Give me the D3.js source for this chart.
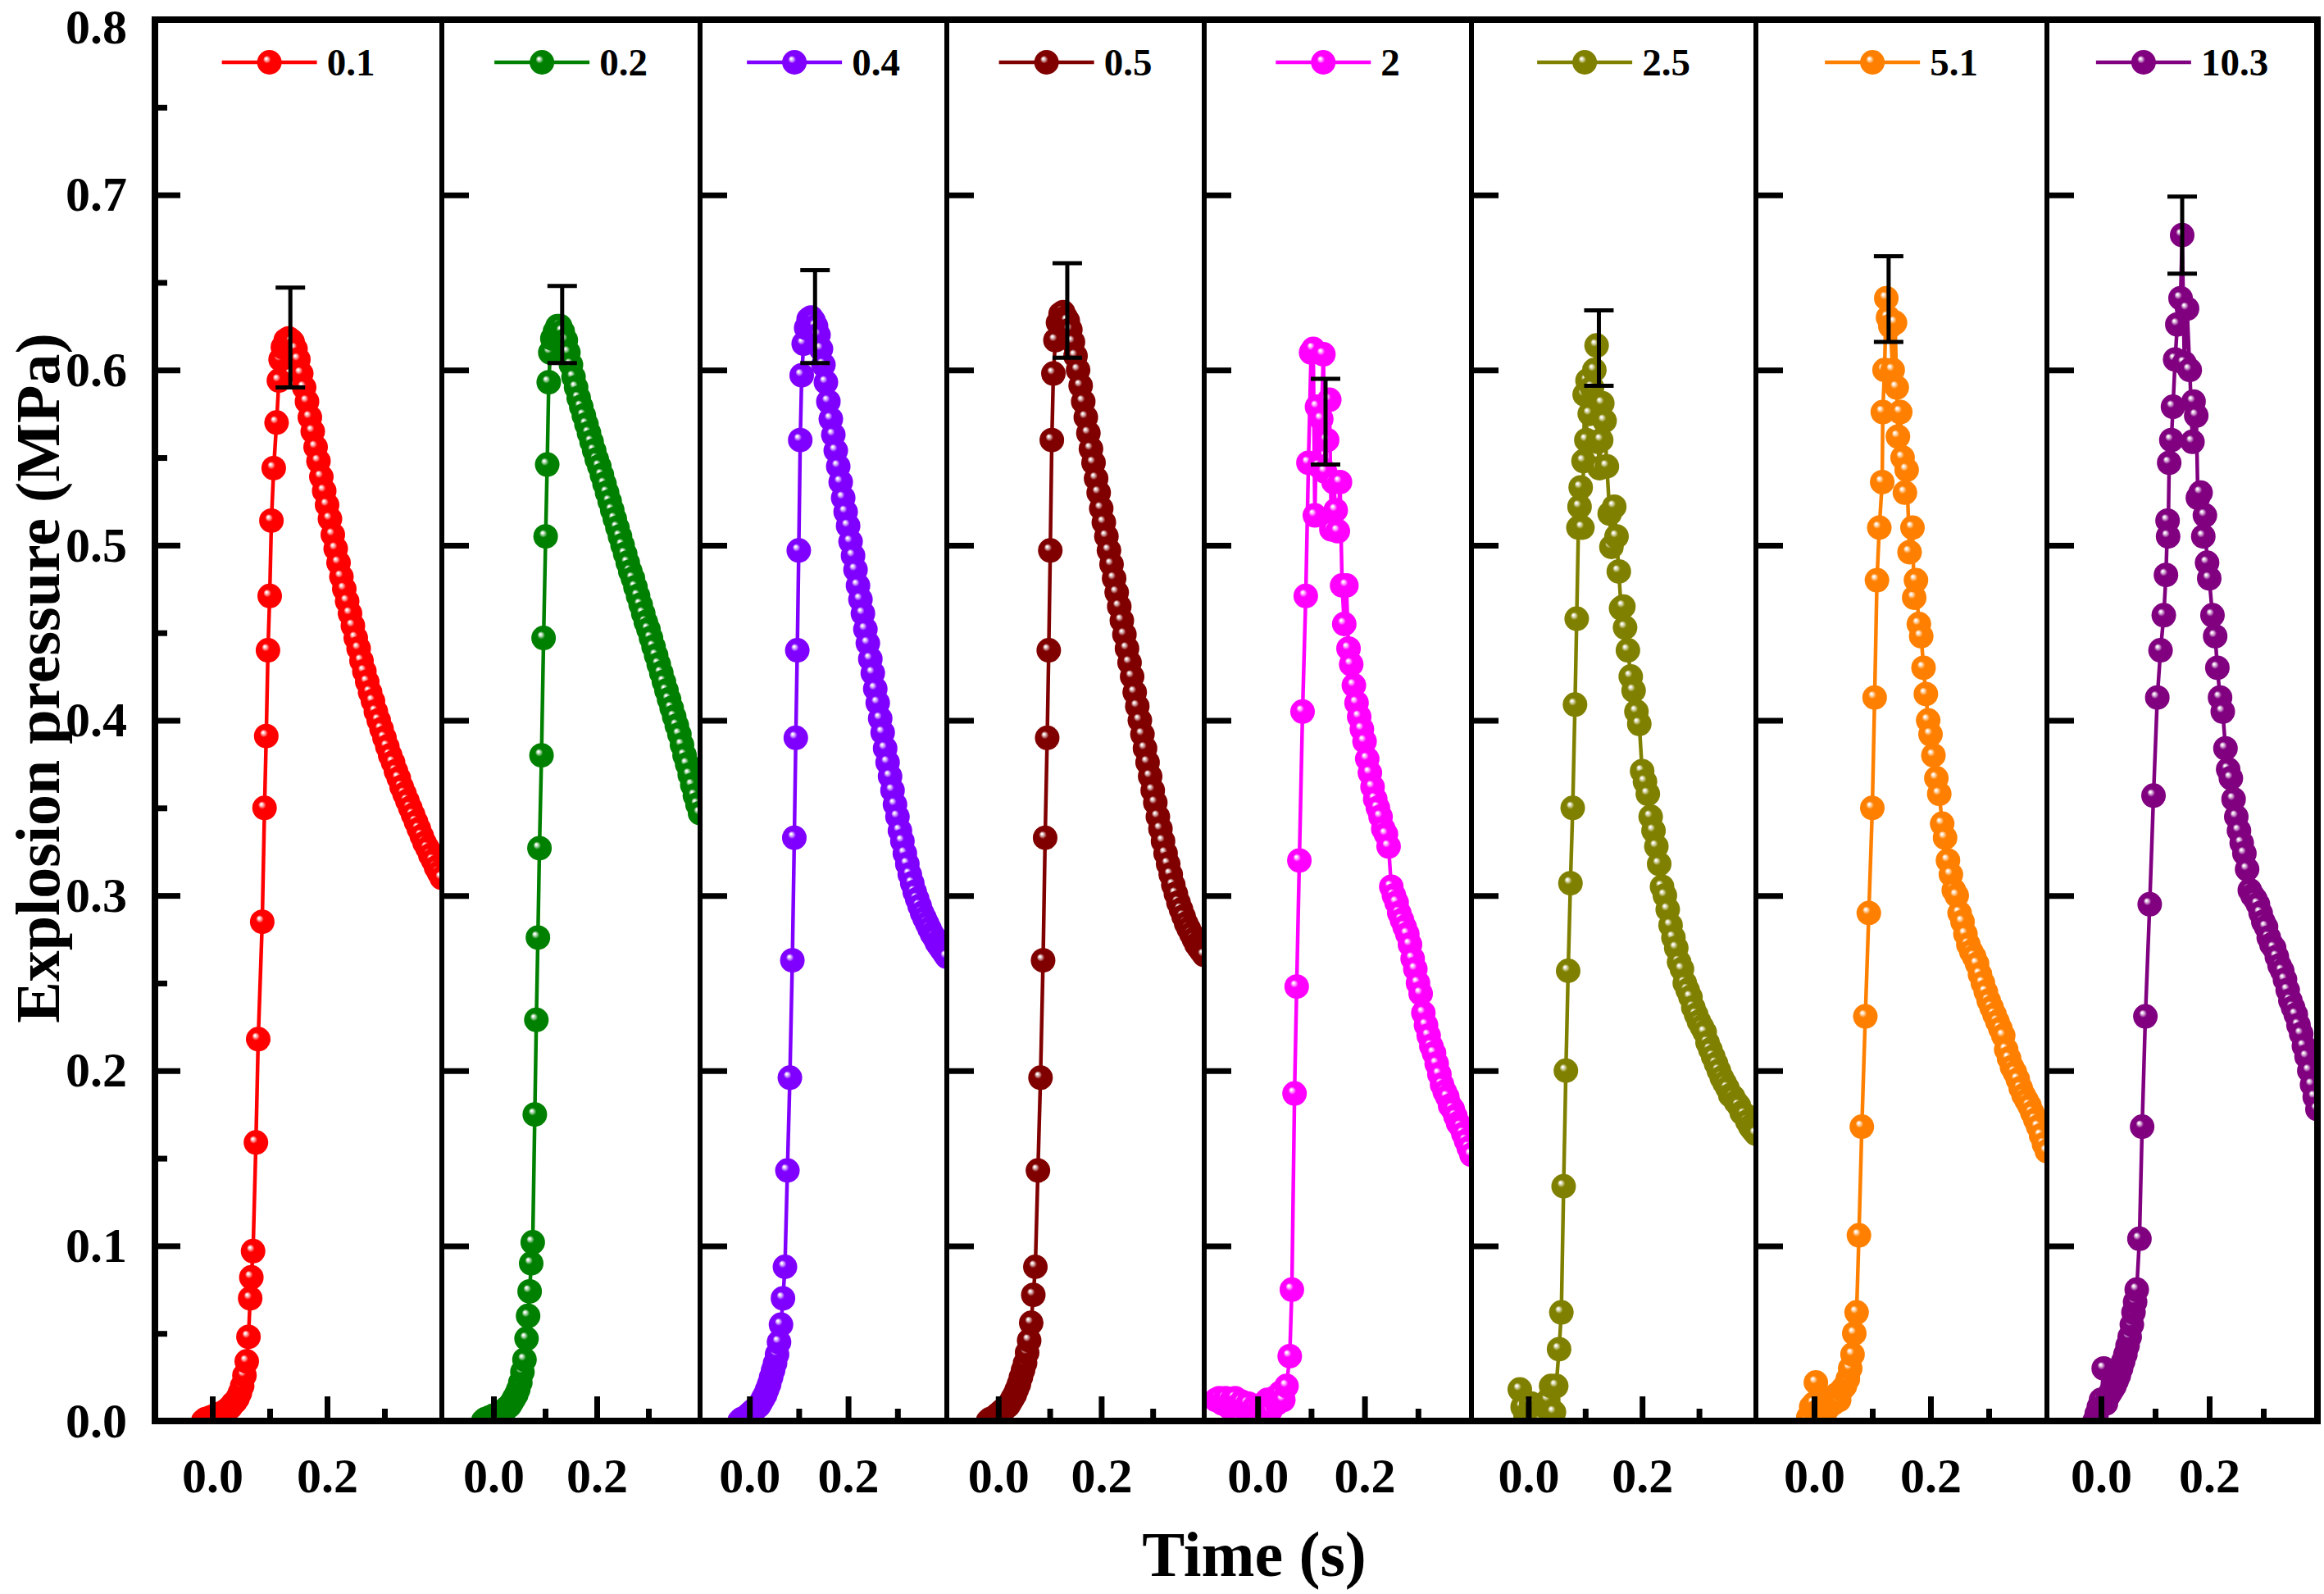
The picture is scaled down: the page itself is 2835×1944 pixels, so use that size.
<!DOCTYPE html>
<html>
<head>
<meta charset="utf-8">
<script src="https://cdn.jsdelivr.net/npm/d3@7"></script>
<style>
  html, body { margin: 0; padding: 0; background: #fff; }
  svg { display: block; }
  text { font-family: "Times New Roman", "Liberation Serif", serif; font-weight: bold; fill: #000; }
</style>
</head>
<body>
<div id="chart"></div>
<script>
// Explosion pressure vs time, one panel per concentration

const labels = ['0.1', '0.2', '0.4', '0.5', '2', '2.5', '5.1', '10.3'];
const colors = ['#ff0000', '#008000', '#8000ff', '#800000', '#ff00ff', '#808000', '#ff8000', '#800080'];

// error bars at the peak: time, lower, upper
const errT  = [0.136, 0.133, 0.133, 0.134, 0.127, 0.124, 0.128, 0.150];
const errLo = [0.590, 0.604, 0.604, 0.607, 0.546, 0.591, 0.616, 0.655];
const errHi = [0.647, 0.648, 0.657, 0.661, 0.595, 0.634, 0.665, 0.699];

const yTicks = [0, 0.1, 0.2, 0.3, 0.4, 0.5, 0.6, 0.7, 0.8];
const yMinor = [0.05, 0.15, 0.25, 0.35, 0.45, 0.55, 0.65, 0.75];
const xTicks = [0, 0.2];
const xMinor = [0.1, 0.3];

// [time (s), pressure (MPa)]
const s01 = [
  [-0.016,0.000],[-0.012,0.001],[-0.008,0.001],[-0.004,0.002],[0.000,0.002],[0.004,0.003],[0.008,0.003],[0.012,0.004],
  [0.016,0.004],[0.020,0.005],[0.024,0.006],[0.028,0.007],[0.032,0.008],[0.036,0.010],[0.040,0.011],[0.044,0.013],
  [0.048,0.016],[0.052,0.020],[0.056,0.026],[0.060,0.034],[0.063,0.048],[0.066,0.070],[0.068,0.082],[0.071,0.097],
  [0.076,0.159],[0.080,0.218],[0.087,0.285],[0.091,0.350],[0.094,0.391],[0.097,0.440],[0.100,0.471],[0.103,0.514],
  [0.107,0.544],[0.112,0.570],[0.116,0.594],[0.119,0.606],[0.123,0.613],[0.128,0.617],[0.133,0.618],[0.137,0.617],
  [0.140,0.616],[0.145,0.612],[0.150,0.606],[0.155,0.598],[0.160,0.590],[0.165,0.582],[0.170,0.573],[0.175,0.565],
  [0.180,0.556],[0.185,0.548],[0.190,0.539],[0.195,0.531],[0.200,0.523],[0.205,0.515],[0.210,0.506],[0.215,0.498],
  [0.220,0.490],[0.225,0.482],[0.230,0.475],[0.235,0.468],[0.240,0.461],[0.245,0.454],[0.250,0.447],[0.255,0.441],
  [0.260,0.434],[0.265,0.428],[0.270,0.422],[0.275,0.416],[0.280,0.411],[0.285,0.405],[0.290,0.400],[0.295,0.395],
  [0.300,0.390],[0.305,0.385],[0.310,0.380],[0.315,0.376],[0.320,0.371],[0.325,0.367],[0.330,0.362],[0.335,0.358],
  [0.340,0.354],[0.345,0.350],[0.350,0.346],[0.355,0.342],[0.360,0.338],[0.365,0.334],[0.370,0.330],[0.375,0.327],
  [0.380,0.323],[0.385,0.320],[0.390,0.316],[0.395,0.313],[0.400,0.310]
];
const s02 = [
  [-0.020,0.000],[-0.016,0.001],[-0.012,0.001],[-0.008,0.002],[-0.004,0.002],[0.000,0.003],[0.004,0.003],[0.008,0.004],
  [0.012,0.004],[0.016,0.005],[0.020,0.006],[0.024,0.007],[0.028,0.008],[0.032,0.009],[0.036,0.011],[0.040,0.013],
  [0.044,0.015],[0.048,0.018],[0.052,0.022],[0.056,0.028],[0.060,0.035],[0.064,0.047],[0.067,0.060],[0.070,0.074],
  [0.073,0.090],[0.076,0.102],[0.080,0.175],[0.083,0.229],[0.086,0.276],[0.089,0.327],[0.093,0.380],[0.097,0.447],
  [0.101,0.505],[0.104,0.546],[0.107,0.593],[0.110,0.610],[0.114,0.618],[0.119,0.622],[0.124,0.625],[0.129,0.625],
  [0.134,0.622],[0.140,0.617],[0.145,0.610],[0.150,0.603],[0.155,0.596],[0.160,0.590],[0.165,0.584],[0.170,0.579],
  [0.175,0.574],[0.180,0.569],[0.185,0.564],[0.190,0.559],[0.195,0.554],[0.200,0.549],[0.205,0.545],[0.210,0.540],
  [0.215,0.535],[0.220,0.530],[0.225,0.525],[0.230,0.520],[0.235,0.515],[0.240,0.510],[0.245,0.505],[0.250,0.500],
  [0.255,0.495],[0.260,0.490],[0.265,0.485],[0.270,0.481],[0.275,0.476],[0.280,0.471],[0.285,0.466],[0.290,0.461],
  [0.295,0.456],[0.300,0.452],[0.305,0.447],[0.310,0.442],[0.315,0.437],[0.320,0.432],[0.325,0.427],[0.330,0.422],
  [0.335,0.417],[0.340,0.412],[0.345,0.407],[0.350,0.402],[0.355,0.397],[0.360,0.392],[0.365,0.386],[0.370,0.380],
  [0.375,0.375],[0.380,0.369],[0.385,0.363],[0.390,0.357],[0.395,0.352],[0.400,0.347]
];
const s04 = [
  [-0.020,0.000],[-0.016,0.001],[-0.012,0.001],[-0.008,0.002],[-0.004,0.003],[0.000,0.004],[0.004,0.005],[0.008,0.006],
  [0.012,0.007],[0.016,0.008],[0.020,0.009],[0.024,0.011],[0.028,0.013],[0.032,0.015],[0.036,0.018],[0.040,0.021],
  [0.044,0.025],[0.048,0.029],[0.052,0.033],[0.056,0.038],[0.060,0.045],[0.064,0.055],[0.068,0.070],[0.072,0.088],
  [0.077,0.143],[0.082,0.196],[0.087,0.263],[0.091,0.333],[0.094,0.390],[0.097,0.440],[0.100,0.497],[0.103,0.560],
  [0.106,0.597],[0.110,0.615],[0.115,0.624],[0.120,0.629],[0.125,0.630],[0.130,0.628],[0.135,0.625],[0.140,0.620],
  [0.145,0.612],[0.150,0.603],[0.155,0.593],[0.160,0.582],[0.165,0.572],[0.170,0.563],[0.175,0.554],[0.180,0.545],
  [0.185,0.536],[0.190,0.527],[0.195,0.519],[0.200,0.511],[0.205,0.502],[0.210,0.494],[0.215,0.486],[0.220,0.477],
  [0.225,0.469],[0.230,0.461],[0.235,0.452],[0.240,0.444],[0.245,0.435],[0.250,0.427],[0.255,0.418],[0.260,0.410],
  [0.265,0.401],[0.270,0.393],[0.275,0.384],[0.280,0.376],[0.285,0.368],[0.290,0.360],[0.295,0.352],[0.300,0.345],
  [0.305,0.337],[0.310,0.331],[0.315,0.324],[0.320,0.318],[0.325,0.312],[0.330,0.307],[0.335,0.302],[0.340,0.298],
  [0.345,0.294],[0.350,0.290],[0.355,0.287],[0.360,0.284],[0.365,0.281],[0.370,0.278],[0.375,0.276],[0.380,0.273],
  [0.385,0.271],[0.390,0.269],[0.395,0.267],[0.400,0.265]
];
const s05 = [
  [-0.020,0.000],[-0.016,0.001],[-0.012,0.001],[-0.008,0.002],[-0.004,0.003],[0.000,0.004],[0.004,0.005],[0.008,0.006],
  [0.012,0.007],[0.016,0.008],[0.020,0.009],[0.024,0.011],[0.028,0.013],[0.032,0.015],[0.036,0.018],[0.040,0.021],
  [0.044,0.025],[0.048,0.029],[0.052,0.033],[0.056,0.039],[0.060,0.046],[0.064,0.056],[0.068,0.072],[0.072,0.088],
  [0.077,0.143],[0.082,0.196],[0.087,0.263],[0.091,0.333],[0.095,0.390],[0.098,0.440],[0.101,0.497],[0.104,0.560],
  [0.107,0.598],[0.111,0.617],[0.116,0.627],[0.121,0.632],[0.126,0.633],[0.131,0.630],[0.135,0.628],[0.140,0.623],
  [0.145,0.616],[0.150,0.608],[0.155,0.600],[0.160,0.591],[0.165,0.582],[0.170,0.573],[0.175,0.564],[0.180,0.555],
  [0.185,0.547],[0.190,0.538],[0.195,0.530],[0.200,0.521],[0.205,0.513],[0.210,0.505],[0.215,0.497],[0.220,0.489],
  [0.225,0.481],[0.230,0.473],[0.235,0.465],[0.240,0.457],[0.245,0.449],[0.250,0.441],[0.255,0.433],[0.260,0.425],
  [0.265,0.416],[0.270,0.408],[0.275,0.400],[0.280,0.392],[0.285,0.384],[0.290,0.376],[0.295,0.368],[0.300,0.360],
  [0.305,0.353],[0.310,0.345],[0.315,0.338],[0.320,0.331],[0.325,0.324],[0.330,0.318],[0.335,0.312],[0.340,0.306],
  [0.345,0.301],[0.350,0.296],[0.355,0.292],[0.360,0.288],[0.365,0.284],[0.370,0.281],[0.375,0.278],[0.380,0.275],
  [0.385,0.272],[0.390,0.270],[0.395,0.268],[0.400,0.266]
];
const s2 = [
  [-0.078,0.012],[-0.072,0.013],[-0.066,0.010],[-0.060,0.013],[-0.054,0.008],[-0.048,0.012],[-0.042,0.013],[-0.036,0.009],
  [-0.030,0.011],[-0.024,0.007],[-0.018,0.010],[-0.012,0.004],[-0.006,0.008],[0.000,0.002],[0.006,0.009],[0.012,0.004],
  [0.018,0.012],[0.024,0.006],[0.030,0.013],[0.036,0.010],[0.042,0.016],[0.048,0.012],[0.054,0.020],[0.060,0.037],
  [0.064,0.075],[0.069,0.187],[0.073,0.248],[0.078,0.320],[0.084,0.405],[0.090,0.471],[0.095,0.547],[0.100,0.610],
  [0.104,0.612],[0.107,0.517],[0.111,0.579],[0.115,0.545],[0.119,0.572],[0.123,0.609],[0.126,0.542],[0.130,0.560],
  [0.134,0.583],[0.138,0.509],[0.142,0.536],[0.146,0.520],[0.150,0.508],[0.154,0.536],[0.158,0.477],[0.162,0.455],
  [0.166,0.477],[0.170,0.441],[0.175,0.432],[0.180,0.420],[0.185,0.410],[0.190,0.402],[0.195,0.395],[0.200,0.388],
  [0.205,0.378],[0.210,0.370],[0.215,0.362],[0.220,0.355],[0.225,0.350],[0.230,0.345],[0.235,0.338],[0.240,0.335],
  [0.245,0.328],[0.250,0.305],[0.255,0.300],[0.260,0.296],[0.265,0.290],[0.270,0.286],[0.275,0.282],[0.280,0.278],
  [0.285,0.272],[0.290,0.264],[0.295,0.258],[0.300,0.250],[0.305,0.244],[0.310,0.233],[0.315,0.226],[0.320,0.220],
  [0.325,0.214],[0.330,0.210],[0.335,0.204],[0.340,0.198],[0.345,0.192],[0.350,0.188],[0.355,0.185],[0.360,0.180],
  [0.365,0.178],[0.370,0.174],[0.375,0.170],[0.380,0.168],[0.385,0.164],[0.390,0.160],[0.395,0.156],[0.400,0.152]
];
const s25 = [
  [-0.015,0.018],[-0.010,0.008],[-0.005,0.003],[0.000,0.002],[0.005,0.010],[0.010,0.003],[0.015,0.000],[0.020,0.006],
  [0.025,0.001],[0.030,0.008],[0.035,0.012],[0.040,0.020],[0.045,0.005],[0.049,0.020],[0.054,0.041],[0.058,0.062],
  [0.062,0.134],[0.066,0.200],[0.070,0.257],[0.074,0.307],[0.078,0.350],[0.082,0.409],[0.085,0.458],[0.088,0.510],
  [0.090,0.522],[0.092,0.533],[0.095,0.510],[0.097,0.548],[0.099,0.586],[0.102,0.560],[0.104,0.594],[0.108,0.575],
  [0.112,0.590],[0.116,0.600],[0.120,0.614],[0.122,0.559],[0.125,0.544],[0.128,0.560],[0.130,0.581],[0.134,0.571],
  [0.138,0.545],[0.143,0.518],[0.146,0.499],[0.151,0.522],[0.155,0.505],[0.159,0.485],[0.163,0.464],[0.167,0.465],
  [0.170,0.453],[0.175,0.440],[0.180,0.425],[0.185,0.417],[0.190,0.405],[0.195,0.398],[0.200,0.371],[0.205,0.365],
  [0.210,0.358],[0.215,0.345],[0.220,0.337],[0.225,0.328],[0.230,0.318],[0.235,0.305],[0.240,0.300],[0.245,0.292],
  [0.250,0.283],[0.255,0.276],[0.260,0.270],[0.265,0.262],[0.270,0.258],[0.275,0.250],[0.280,0.246],[0.285,0.242],
  [0.290,0.236],[0.295,0.232],[0.300,0.228],[0.305,0.225],[0.310,0.222],[0.315,0.216],[0.320,0.212],[0.325,0.208],
  [0.330,0.204],[0.335,0.200],[0.340,0.196],[0.345,0.193],[0.350,0.190],[0.355,0.186],[0.360,0.185],[0.365,0.182],
  [0.370,0.180],[0.375,0.176],[0.380,0.175],[0.385,0.171],[0.390,0.168],[0.395,0.166],[0.400,0.164]
];
const s51 = [
  [-0.010,0.002],[-0.005,0.008],[0.000,0.010],[0.003,0.022],[0.008,0.006],[0.013,0.004],[0.018,0.009],[0.023,0.007],
  [0.028,0.012],[0.033,0.010],[0.038,0.015],[0.043,0.012],[0.048,0.018],[0.053,0.020],[0.058,0.024],[0.062,0.030],
  [0.066,0.038],[0.069,0.050],[0.073,0.062],[0.077,0.106],[0.082,0.168],[0.088,0.231],[0.094,0.290],[0.100,0.350],
  [0.104,0.413],[0.108,0.480],[0.112,0.510],[0.117,0.536],[0.118,0.576],[0.121,0.600],[0.124,0.641],[0.127,0.630],
  [0.131,0.625],[0.135,0.600],[0.139,0.627],[0.142,0.590],[0.144,0.562],[0.148,0.576],[0.152,0.550],[0.156,0.530],
  [0.159,0.543],[0.164,0.496],[0.169,0.510],[0.172,0.470],[0.175,0.480],[0.180,0.455],[0.184,0.448],[0.188,0.430],
  [0.192,0.415],[0.196,0.400],[0.200,0.392],[0.205,0.380],[0.210,0.367],[0.215,0.358],[0.220,0.341],[0.225,0.333],
  [0.230,0.320],[0.235,0.312],[0.240,0.303],[0.245,0.300],[0.250,0.290],[0.255,0.285],[0.260,0.278],[0.265,0.272],
  [0.270,0.268],[0.275,0.265],[0.280,0.261],[0.285,0.255],[0.290,0.250],[0.295,0.245],[0.300,0.240],[0.305,0.236],
  [0.310,0.232],[0.315,0.228],[0.320,0.224],[0.325,0.220],[0.330,0.212],[0.335,0.207],[0.340,0.202],[0.345,0.199],
  [0.350,0.195],[0.355,0.190],[0.360,0.186],[0.365,0.183],[0.370,0.180],[0.375,0.176],[0.380,0.172],[0.385,0.168],
  [0.390,0.163],[0.395,0.158],[0.400,0.154]
];
const s103 = [
  [-0.012,0.000],[-0.008,0.004],[-0.004,0.008],[0.000,0.012],[0.005,0.030],[0.009,0.010],[0.013,0.014],[0.017,0.016],
  [0.021,0.018],[0.025,0.020],[0.029,0.023],[0.033,0.026],[0.037,0.030],[0.041,0.034],[0.045,0.038],[0.049,0.043],
  [0.053,0.048],[0.057,0.055],[0.060,0.062],[0.063,0.068],[0.066,0.075],[0.071,0.104],[0.076,0.168],[0.082,0.231],
  [0.090,0.295],[0.097,0.357],[0.104,0.413],[0.110,0.440],[0.116,0.460],[0.120,0.483],[0.123,0.514],[0.124,0.505],
  [0.126,0.547],[0.130,0.560],[0.133,0.579],[0.137,0.606],[0.141,0.626],[0.147,0.641],[0.150,0.677],[0.154,0.604],
  [0.159,0.635],[0.164,0.600],[0.169,0.559],[0.171,0.582],[0.176,0.574],[0.179,0.527],[0.184,0.530],[0.189,0.505],
  [0.192,0.517],[0.196,0.490],[0.200,0.481],[0.206,0.460],[0.211,0.448],[0.215,0.430],[0.220,0.413],[0.225,0.405],
  [0.230,0.384],[0.235,0.372],[0.240,0.367],[0.245,0.355],[0.250,0.345],[0.255,0.337],[0.260,0.330],[0.265,0.324],
  [0.270,0.315],[0.275,0.303],[0.280,0.300],[0.285,0.298],[0.290,0.295],[0.295,0.290],[0.300,0.285],[0.305,0.282],
  [0.310,0.276],[0.315,0.272],[0.320,0.270],[0.325,0.265],[0.330,0.260],[0.335,0.257],[0.340,0.252],[0.345,0.246],
  [0.350,0.240],[0.355,0.236],[0.360,0.232],[0.365,0.226],[0.370,0.221],[0.375,0.214],[0.380,0.208],[0.385,0.200],
  [0.390,0.192],[0.395,0.185],[0.400,0.178]
];

const seriesData = [s01, s02, s04, s05, s2, s25, s51, s103];

// ---- layout ----
const W = 2835, H = 1944;
const plotTop = 24, plotBottom = 1733;
const edges = [189, 539, 854, 1155, 1469, 1795, 2142, 2497, 2827];
const markerR = 15;

const svg = d3.select('#chart').append('svg')
  .attr('width', W)
  .attr('height', H)
  .attr('viewBox', [0, 0, W, H]);

svg.append('rect').attr('width', W).attr('height', H).attr('fill', '#fff');

const defs = svg.append('defs');

const y = d3.scaleLinear().domain([0, 0.8]).range([plotBottom, plotTop]);

// sphere-like marker fill for every colour: small highlight up-left, solid body
colors.forEach((c, i) => {
  const g = defs.append('radialGradient')
    .attr('id', 'ball' + i)
    .attr('cx', '0.5').attr('cy', '0.5').attr('r', '0.5')
    .attr('fx', '0.36').attr('fy', '0.34');
  g.append('stop').attr('offset', 0).attr('stop-color', '#ffffff');
  g.append('stop').attr('offset', 0.05).attr('stop-color', '#ffffff');
  g.append('stop').attr('offset', 0.17).attr('stop-color', d3.interpolateRgb(c, '#ffffff')(0.6));
  g.append('stop').attr('offset', 0.32).attr('stop-color', c);
  g.append('stop').attr('offset', 1).attr('stop-color', c);
});

const fmt = d3.format('.1f');

seriesData.forEach((data, i) => {
  const x0 = edges[i], x1 = edges[i + 1];
  const x = d3.scaleLinear().domain([-0.1, 0.4]).range([x0, x1]);

  defs.append('clipPath').attr('id', 'clip' + i)
    .append('rect')
    .attr('x', x0).attr('y', plotTop)
    .attr('width', x1 - x0).attr('height', plotBottom - plotTop);

  const panel = svg.append('g').attr('clip-path', `url(#clip${i})`);

  const line = d3.line().x(d => x(d[0])).y(d => y(d[1]));

  panel.append('path')
    .datum(data)
    .attr('fill', 'none')
    .attr('stroke', colors[i])
    .attr('stroke-width', 4.5)
    .attr('stroke-linejoin', 'round')
    .attr('d', line);

  panel.append('g')
    .selectAll('circle')
    .data(data)
    .join('circle')
    .attr('cx', d => x(d[0]))
    .attr('cy', d => y(d[1]))
    .attr('r', markerR)
    .attr('fill', `url(#ball${i})`);

  // error bar at the peak
  const eb = panel.append('g').attr('stroke', '#000').attr('stroke-width', 5);
  const ex = x(errT[i]);
  eb.append('line').attr('x1', ex).attr('x2', ex).attr('y1', y(errLo[i])).attr('y2', y(errHi[i]));
  [errLo[i], errHi[i]].forEach(v => {
    eb.append('line').attr('x1', ex - 18).attr('x2', ex + 18).attr('y1', y(v)).attr('y2', y(v));
  });

  // bottom axis: ticks point inward
  const xAxis = svg.append('g').attr('transform', `translate(0,${plotBottom})`)
    .call(d3.axisBottom(x).tickValues(xTicks).tickSize(-30).tickPadding(44).tickFormat(fmt));
  const xMinorAxis = svg.append('g').attr('transform', `translate(0,${plotBottom})`)
    .call(d3.axisBottom(x).tickValues(xMinor).tickSize(-15).tickFormat(''));
  [xAxis, xMinorAxis].forEach(a => {
    a.select('.domain').remove();
    a.selectAll('line').attr('stroke', '#000').attr('stroke-width', 7);
  });
  xAxis.selectAll('text').style('font-size', '60px');

  // left axis of each panel
  if (i === 0) {
    const yAxis = svg.append('g').attr('transform', `translate(${x0},0)`)
      .call(d3.axisLeft(y).tickValues(yTicks).tickSize(-31).tickPadding(34).tickFormat(fmt));
    const yMinorAxis = svg.append('g').attr('transform', `translate(${x0},0)`)
      .call(d3.axisLeft(y).tickValues(yMinor).tickSize(-15).tickFormat(''));
    [yAxis, yMinorAxis].forEach(a => {
      a.select('.domain').remove();
      a.selectAll('line').attr('stroke', '#000').attr('stroke-width', 7);
    });
    yAxis.selectAll('text').style('font-size', '60px');
    // keep the top label inside the page
    yAxis.selectAll('text').filter(d => d === 0.8).attr('y', 9);
  } else {
    const divAxis = svg.append('g').attr('transform', `translate(${x0},0)`)
      .call(d3.axisLeft(y).tickValues(yTicks.slice(1, -1)).tickSize(-33).tickFormat(''));
    divAxis.select('.domain').remove();
    divAxis.selectAll('line').attr('stroke', '#000').attr('stroke-width', 7);
    svg.append('line')
      .attr('x1', x0).attr('x2', x0).attr('y1', plotTop).attr('y2', plotBottom)
      .attr('stroke', '#000').attr('stroke-width', 6);
  }

  // legend, centred in the panel
  const lg = svg.append('g');
  const lt = lg.append('text').attr('font-size', 47).text(labels[i]);
  const tw = lt.node().getComputedTextLength();
  const segW = 116, gap = 12;
  const start = (x0 + x1) / 2 - (segW + gap + tw) / 2;
  const ly = 76;
  lg.append('line')
    .attr('x1', start).attr('x2', start + segW).attr('y1', ly).attr('y2', ly)
    .attr('stroke', colors[i]).attr('stroke-width', 4.5);
  lg.append('circle')
    .attr('cx', start + segW / 2).attr('cy', ly).attr('r', markerR)
    .attr('fill', `url(#ball${i})`);
  lt.attr('x', start + segW + gap).attr('y', ly + 16);
});

// outer frame
const frame = svg.append('g').attr('stroke', '#000').attr('stroke-width', 8).attr('fill', 'none');
frame.append('rect')
  .attr('x', edges[0]).attr('y', plotTop)
  .attr('width', edges[edges.length - 1] - edges[0])
  .attr('height', plotBottom - plotTop);

// axis titles
svg.append('text')
  .attr('transform', `translate(72,${827}) rotate(-90)`)
  .attr('text-anchor', 'middle')
  .attr('font-size', 76)
  .text('Explosion pressure (MPa)');

svg.append('text')
  .attr('x', 1530).attr('y', 1922)
  .attr('text-anchor', 'middle')
  .attr('font-size', 78)
  .text('Time (s)');
</script>
</body>
</html>
